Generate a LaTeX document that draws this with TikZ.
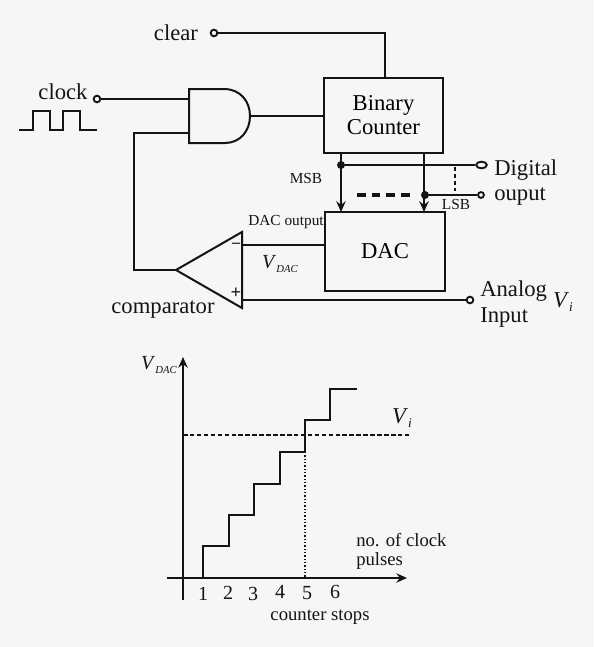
\documentclass[tikz,border=0pt]{standalone}
\usepackage{fontspec}
\setmainfont{Liberation Serif}
\usetikzlibrary{arrows.meta,calc,shapes.geometric}
\newcommand{\fsz}[1]{\fontsize{#1}{#1}\selectfont}
\newcommand{\volt}[3]{\fsz{#3}\textit{V}\raisebox{-3pt}{\fsz{#2}\textit{#1}}}
\definecolor{ink}{HTML}{141414}
\definecolor{paper}{HTML}{F6F6F6}
\tikzset{
  x=0.75pt,y=-0.75pt,
  wire/.style={draw=ink,line width=1.5pt},
  slim wire/.style={draw=ink,line width=1.5pt},
  flow/.style={wire,-{Stealth[length=8pt,width=7pt]}},
  block/.style={draw=ink,line width=1.5pt,inner sep=0pt,font=\fsz{17},align=center,minimum width=#1},
  term/.style={circle,draw=ink,line width=1.4pt,fill=paper,inner sep=0pt,minimum size=5pt},
  dotn/.style={circle,fill=ink,inner sep=0pt,minimum size=6pt},
  big/.style={inner sep=0pt,text=ink,font=\fsz{17},align=left},
  mid/.style={inner sep=0pt,text=ink,font=\fsz{14},align=left},
  digit/.style={inner sep=0pt,text=ink,font=\fsz{15}},
  tiny/.style={inner sep=0pt,text=ink,font=\fsz{11.5}},
}
\begin{document}
\begin{tikzpicture}
\useasboundingbox (0,0) rectangle (594,647);
\fill[paper] (0,0) rectangle (594,647);

% blocks
\node[block=89.25pt,minimum height=56.25pt] (bc) at (383.5,115.5) {Binary\\[1pt]Counter};
\node[block=90pt,minimum height=59.25pt] (dac) at (385,251.5) {DAC};

% terminals
\node[term] (tclear) at (214,33) {};
\node[term] (tclock) at (97,99) {};
\node[draw=ink,line width=1.4pt,fill=paper,ellipse,inner sep=0pt,minimum width=8pt,minimum height=5pt] (tmsb) at (481.5,165) {};
\node[term,minimum size=4.4pt] (tlsb) at (481,195) {};
\node[term] (tana) at (470,300) {};
\node[dotn] (dmsb) at (341,165) {};
\node[dotn] (dlsb) at (425,195) {};

% AND gate
\coordinate (ganda) at (189,89);
\coordinate (gandb) at (189,143);
\coordinate (in1) at (189,99);
\coordinate (in2) at (189,133);
\coordinate (gout) at (250,116);
\draw[wire,line join=miter] (224,89) -- (ganda) -- (gandb) -- (225,143)
  .. controls (240,143) and (250,131) .. (gout)
  .. controls (250,101) and (240,89) .. (224,89);

% comparator
\coordinate (ctip) at (176,270);
\coordinate (cminus) at (242,245);
\coordinate (cplus) at (242,300);
\draw[wire,line join=miter] (ctip) -- (242,232) -- (242,308) -- cycle;
\node[inner sep=0pt,text=ink,font=\bfseries\fsz{12}] (msign) at (236,245) {–};
\node[inner sep=0pt,text=ink,font=\bfseries\fsz{14}] (psign) at (236,293) {+};

% wires
\coordinate (turn) at (385,33);
\draw[wire] (tclear) -- (turn) -- (turn |- bc.north);
\draw[wire] (tclock) -- (in1);
\draw[wire] (in2) -- (134,133) -- (134,270) -- (ctip);
\draw[slim wire] (gout) -- (gout -| bc.west);
\draw[slim wire] (cminus) -- (cminus -| dac.west);
\draw[slim wire] (cplus) -- (tana);
\draw[flow] (341,153) -- (341,212);
\draw[flow] (424,153) -- (424,212);
\draw[wire] (dmsb) -- (tmsb);
\draw[slim wire] (dlsb) -- (tlsb);
\draw[draw=ink,line width=1.5pt,dash pattern=on 3pt off 2.2pt] (455,167) -- (455,191);
\draw[draw=ink,line width=2.8pt,dash pattern=on 6.5pt off 4.5pt] (357,195) -- (415,195);

% clock waveform
\draw[wire,line join=miter] (19,130) -- (33,130) -- (33,111) -- (50,111) -- (50,130) -- (63,130) -- (63,111) -- (80,111) -- (80,130) -- (97,130);

% labels
\node[big] (lclear) at (176,33) {clear};
\node[big] (lclock) at (63,92) {clock};
\node[big] (lcomp) at (163,310) {comparator};
\node[big,anchor=west] (ldig) at (494,170) {Digital};
\node[big,anchor=west] (lout) at (494,197) {ouput};
\node[big,anchor=west] (lana) at (480,291) {Analog};
\node[big,anchor=west] (linp) at (480,317) {Input};
\node[inner sep=0pt,text=ink] (lvi) at (563,302) {\volt{i}{10}{17}};
\node[tiny] (lmsb) at (306,178) {MSB};
\node[tiny] (llsb) at (456,204) {LSB};
\node[tiny] (ldaco) at (286,222) {DAC output};
\node[inner sep=0pt,text=ink] (lvdac) at (280,264) {\volt{DAC}{8}{15}};

% plot
\coordinate (yb) at (183,600);
\coordinate (yt) at (183,357);
\coordinate (xl) at (167,578);
\coordinate (xr) at (407,578);
\draw[flow] (yb) -- (yt);
\draw[draw=ink,line width=1.5pt,-{Stealth[length=8pt,width=7pt]}] (xl) -- (xr);
\draw[wire,line join=miter] (203,578) -- (203,546) -- (229,546) -- (229,515) -- (254,515) -- (254,484) -- (280,484) -- (280,452) -- (305,452) -- (305,420) -- (330,420) -- (330,389) -- (357,389);
\draw[draw=ink,line width=1.5pt,dash pattern=on 3.4pt off 1.8pt] (183,435) -- (410,435);
\draw[draw=ink,line width=1pt,dash pattern=on 1.1pt off 1.4pt] (305,452) -- (305,578);
\node[inner sep=0pt,text=ink] (pvdac) at (159,365) {\volt{DAC}{8}{15}};
\node[inner sep=0pt,text=ink] (pvi) at (402,418) {\volt{i}{10}{17}};
\node[mid,anchor=west] (pno) at (356,540) {no. of clock};
\node[mid,anchor=west] (ppul) at (356,561) {pulses};
\node[digit] (n1) at (203,594) {1};
\node[digit] (n2) at (228,593) {2};
\node[digit] (n3) at (253,594) {3};
\node[digit] (n4) at (280,592) {4};
\node[digit] (n5) at (307,593) {5};
\node[digit] (n6) at (335,592) {6};
\node[mid] (pstop) at (320,617) {counter stops};
\end{tikzpicture}
\end{document}
